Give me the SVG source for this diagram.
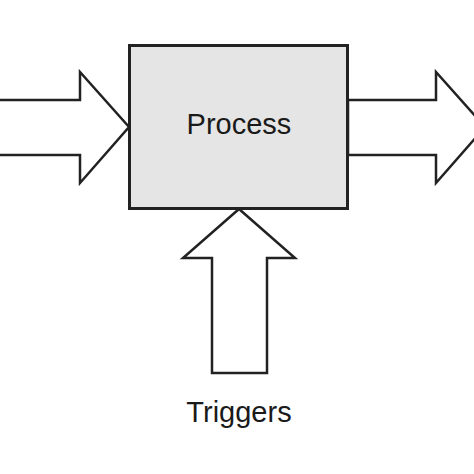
<svg xmlns="http://www.w3.org/2000/svg" width="474" height="474" viewBox="0 0 474 474">
<style>
.arrow{fill:#ffffff;stroke:#222222;stroke-width:2.5;stroke-linejoin:miter}
.box{fill:#e5e5e5;stroke:#222222;stroke-width:3}
.lbl{font-family:"Liberation Sans",Arial,sans-serif;font-size:29px;fill:#1a1a1a;text-anchor:middle}
</style>
<rect width="474" height="474" fill="#ffffff"/>
<g id="connectors">
<polygon class="arrow" points="-5,100 80,100 80,72 129,127 80,183 80,155 -5,155"/>
<polygon class="arrow" points="348,100 436,100 436,72 485,127 436,183 436,155 348,155"/>
<polygon class="arrow" points="212,373 212,258 183,258 239,209 295,258 267,258 267,373"/>
</g>
<g id="process">
<rect class="box" x="129.5" y="45.5" width="218" height="163"/>
<text class="lbl" x="239" y="133.5">Process</text>
</g>
<g id="triggers">
<text class="lbl" x="239" y="421.5">Triggers</text>
</g>
</svg>
